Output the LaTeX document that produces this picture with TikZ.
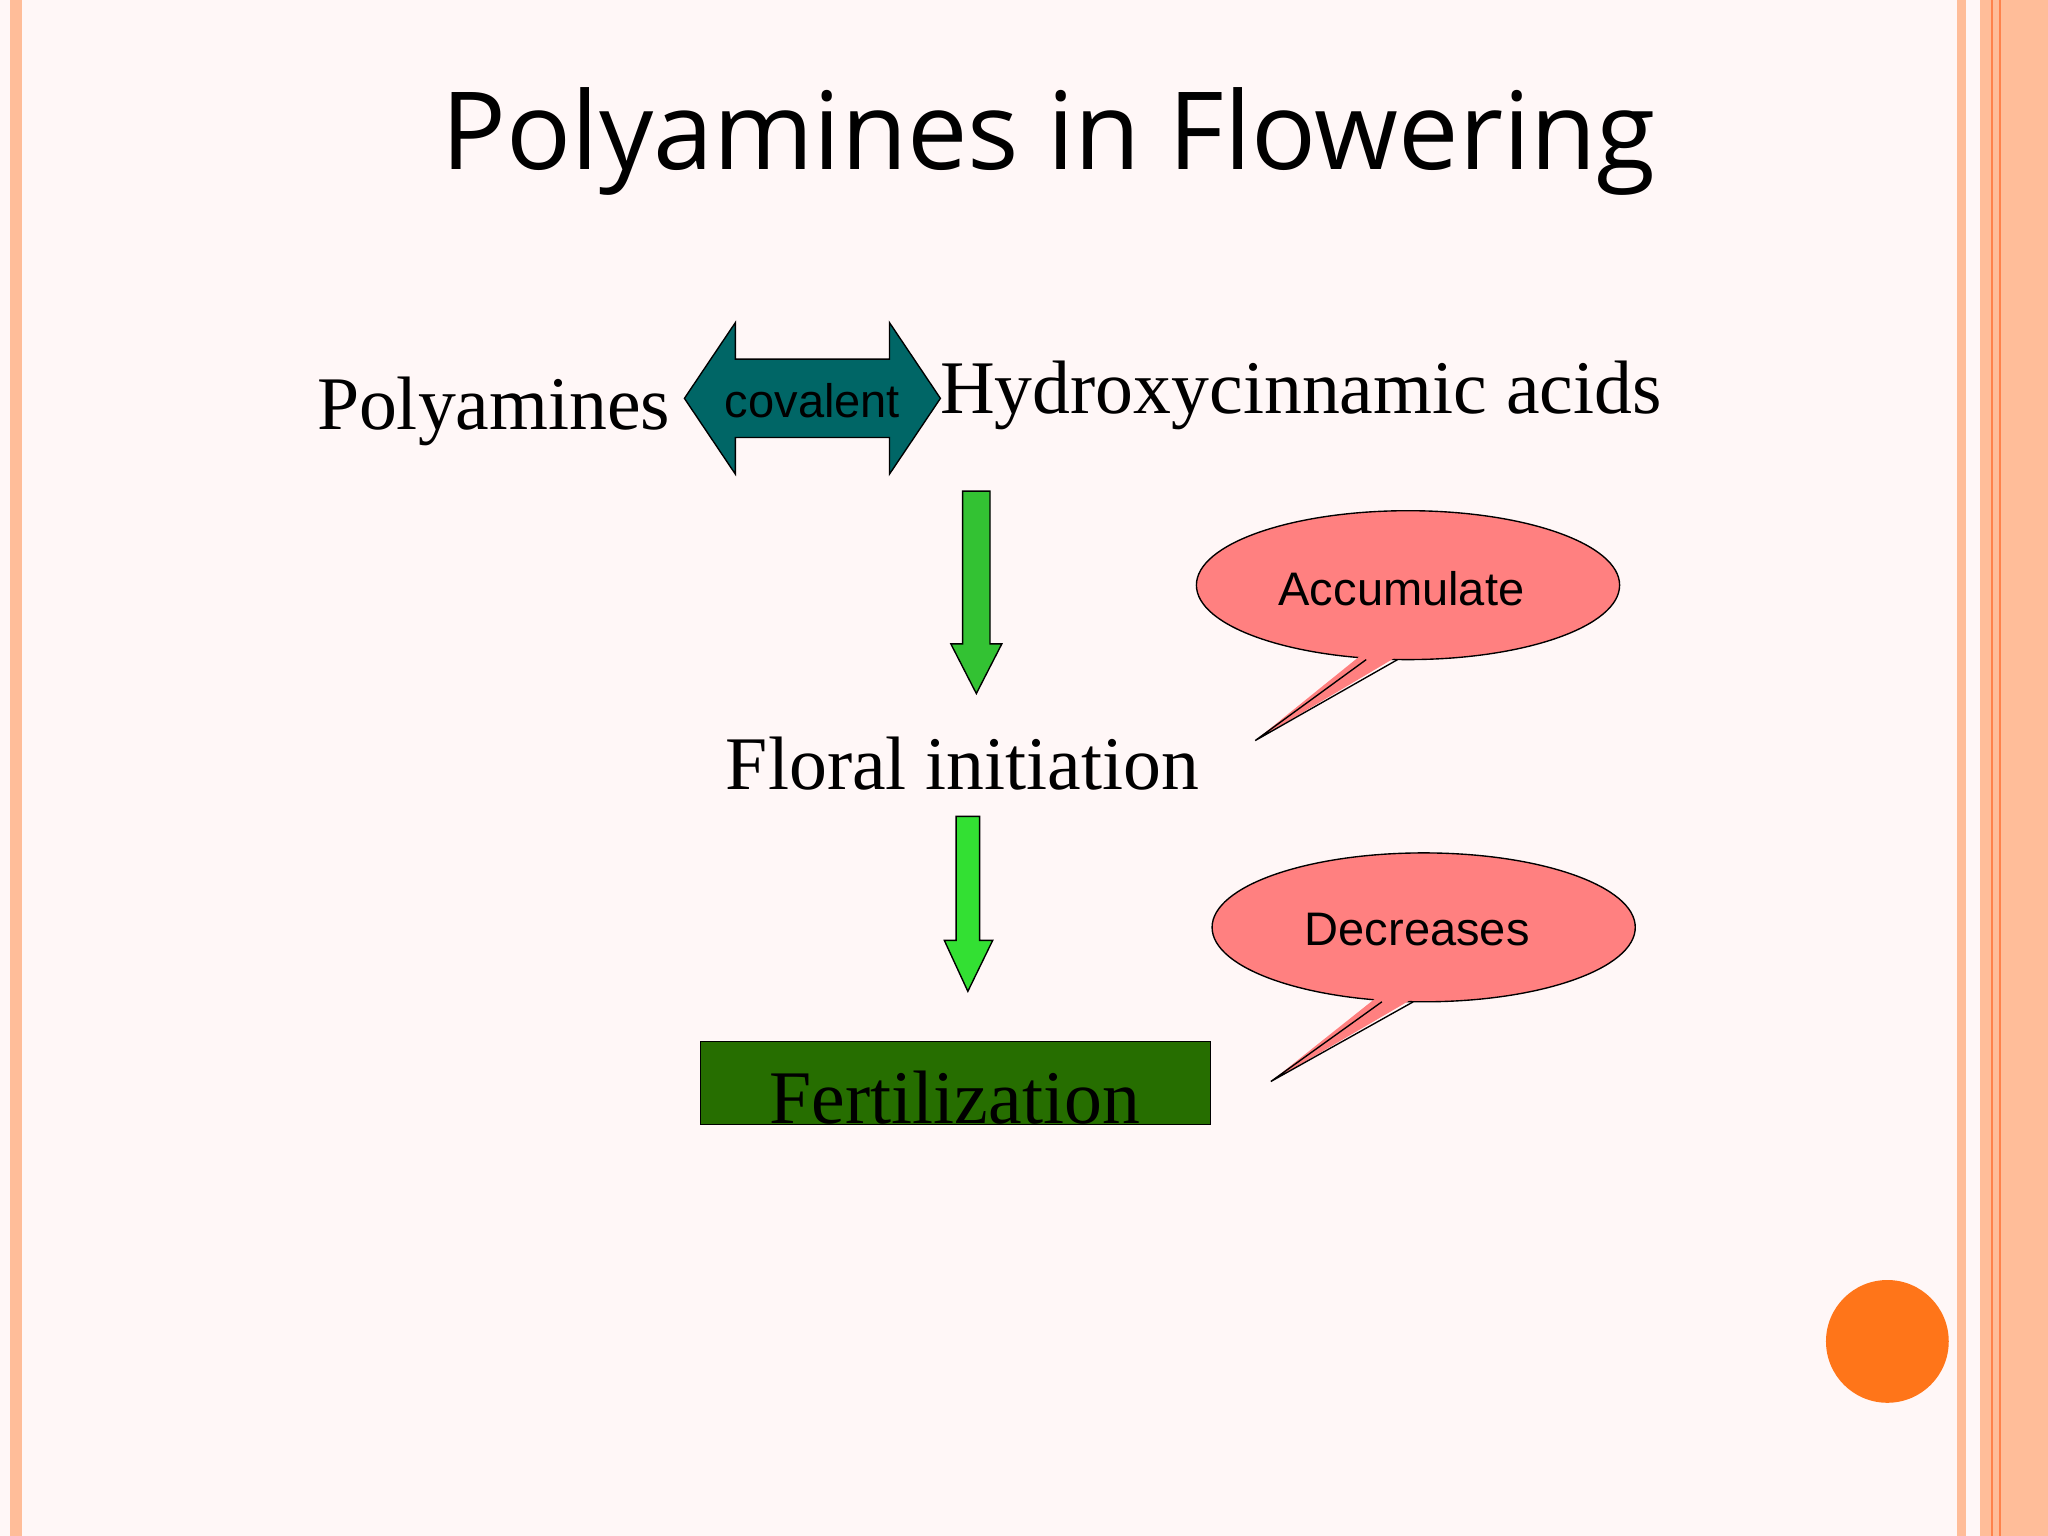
\documentclass[tikz,border=0pt]{standalone}
\usepackage{fontspec}
\setmainfont{Liberation Serif}
\newfontfamily\sansf{Liberation Sans}
\newfontfamily\titlef{Open Sans}
\begin{document}
\begin{tikzpicture}[x=0.02cm,y=-0.02cm,
  sertext/.style={font=\fontsize{33pt}{36pt}\selectfont,inner sep=0},
  santext/.style={font=\sansf\fontsize{20.5pt}{24pt}\selectfont,inner sep=0},
  callout/.style={fill=red!50!white,draw=black,line width=0.6pt}]
\useasboundingbox (0,0) rectangle (1568,1176);
\fill[white!97!red] (0,0) rectangle (1568,1176);
\fill[red!30!orange!40!white] (8,0) rectangle (17,1176);
\fill[red!30!orange!40!white] (1498,0) rectangle (1505,1176);
\fill[red!30!orange!40!white] (1516,0) rectangle (1568,1176);
\draw[red!40!orange!70!white,line width=1pt] (1525,0)--(1525,1176) (1531,0)--(1531,1176);
\fill[orange!80!red!90!white] (1445,1027) circle (47);
\node[font=\titlef\fontsize{47pt}{52pt}\selectfont,inner sep=0] (title) at (803,108) {Polyamines in Flowering};
% double arrow
\fill[teal!80!black,draw=black,line width=0.6pt] (524,305)--(563,247)--(563,275)--(681,275)--(681,247)--(720,305)--(681,363)--(681,335)--(563,335)--(563,363)--cycle;
\node[santext] (cov) at (622,307) {covalent};
\node[sertext] (poly) at (378,315) {Polyamines};
\node[sertext] (hca) at (996,303) {Hydroxycinnamic acids};
% green arrows
\fill[green!70!black!80!white,draw=black,line width=0.6pt] (737,376)--(758,376)--(758,493)--(767,493)--(747.5,531)--(728,493)--(737,493)--cycle;
\node[sertext] (flor) at (737,585) {Floral initiation};
\fill[green!85!black!80!white,draw=black,line width=0.6pt] (732,625)--(750,625)--(750,720)--(760,720)--(741,759)--(723,720)--(732,720)--cycle;
\node[draw=black,fill=green!40!black!70!olive,minimum width=391*0.02cm,minimum height=64*0.02cm,inner sep=0] (fert) at (731.5,829) {};
\node[sertext,anchor=base] (fertt) at (731,860) {Fertilization};
% callouts
\draw[callout] (1078,448) ellipse [x radius=162,y radius=57];
\fill[red!50!white] (1044,500)--(1074,500)--(961,567)--cycle;
\draw[line width=0.6pt] (1046,505)--(961,567)--(1070,505);
\node[santext] (acc) at (1073,451) {Accumulate};
\draw[callout] (1090,710) ellipse [x radius=162,y radius=57];
\fill[red!50!white] (1056,762)--(1086,762)--(973,828)--cycle;
\draw[line width=0.6pt] (1058,767)--(973,828)--(1082,767);
\node[santext] (dec) at (1085,712) {Decreases};
\end{tikzpicture}
\end{document}
